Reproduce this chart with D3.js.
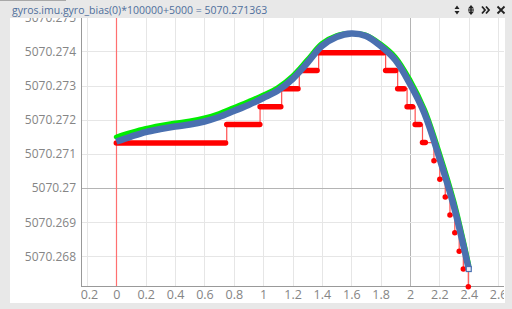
<!DOCTYPE html>
<html>
<head>
<meta charset="utf-8">
<script src="https://cdn.jsdelivr.net/npm/d3@7"></script>
<style>
  body { margin: 0; background: #e8e8e8; }
  svg { display: block; font-family: "Open Sans", sans-serif; }
</style>
</head>
<body>
<svg width="512" height="309"></svg>
<script>
// series (time in s, value)
const times = [0, 0.1, 0.2, 0.3, 0.4, 0.5, 0.6, 0.7, 0.8, 0.9, 1.0, 1.1, 1.2,
  1.3, 1.4, 1.5, 1.6, 1.7, 1.8, 1.9, 2.0, 2.1, 2.2, 2.3, 2.4];
const blueVals = [5070.271362, 5070.271508, 5070.27164, 5070.271728, 5070.271801,
  5070.27186, 5070.271948, 5070.27208, 5070.272255, 5070.272431, 5070.272636,
  5070.272856, 5070.273193, 5070.273661, 5070.274159, 5070.274423, 5070.274525,
  5070.274452, 5070.274159, 5070.273749, 5070.273046, 5070.272168, 5070.270879,
  5070.269443, 5070.267627];
const greenVals = [5070.271494, 5070.271626, 5070.271743, 5070.271831, 5070.271904,
  5070.271963, 5070.27205, 5070.272182, 5070.272358, 5070.272534, 5070.272724,
  5070.272944, 5070.273281, 5070.273749, 5070.274233, 5070.274467, 5070.274525,
  5070.274482, 5070.274218, 5070.273837, 5070.273163, 5070.272285, 5070.271025,
  5070.26959, 5070.267745];

// red quantized series: one entry per level (first and last sample time)
const redStart = [0, 0.752, 0.979, 1.126, 1.246, 1.378, 1.834, 1.916, 1.98, 2.035,
  2.085, 2.163, 2.203, 2.24, 2.272, 2.305, 2.335, 2.363, 2.397];
const redEnd = [0.744, 0.977, 1.12, 1.237, 1.367, 1.823, 1.903, 1.96, 2.017, 2.068,
  2.104, 2.163, 2.203, 2.24, 2.272, 2.305, 2.335, 2.363, 2.397];
const redVals = [5070.27132, 5070.27186, 5070.27238, 5070.27291, 5070.27344, 5070.27396,
  5070.27344, 5070.27291, 5070.27238, 5070.27186, 5070.27133, 5070.2708, 5070.27026,
  5070.26974, 5070.26921, 5070.26869, 5070.26815, 5070.26763, 5070.26711];

const xTicks = [-0.2, 0, 0.2, 0.4, 0.6, 0.8, 1, 1.2, 1.4, 1.6, 1.8, 2, 2.2, 2.4, 2.6];
const yTicks = [5070.268, 5070.269, 5070.27, 5070.271, 5070.272, 5070.273, 5070.274, 5070.275];
const title = 'gyros.imu.gyro_bias(0)*100000+5000 = 5070.271363';
const trackerTime = 0;

const svg = d3.select('svg');
const pLeft = 81, pRight = 504, pTop = 18, pBottom = 286;

const x = d3.scaleLinear().domain([-0.2404, 2.640]).range([pLeft, pRight]);
const y = d3.scaleLinear().domain([5070.26713, 5070.27498]).range([pBottom, pTop]);

// background panels
svg.append('rect').attr('x', 0).attr('y', 0).attr('width', 512).attr('height', 309).attr('fill', '#e8e8e8');
svg.append('rect').attr('x', 0).attr('y', 0).attr('width', 66).attr('height', 1).attr('fill', '#a8a8a8');
svg.append('rect').attr('x', 10).attr('y', pTop).attr('width', pRight - 10 + 1).attr('height', 303 - pTop).attr('fill', '#fff');

svg.append('text')
  .attr('x', 12).attr('y', 14)
  .attr('font-size', 10.5)
  .attr('fill', '#4f6f9c')
  .text(title);

// header icons
const ic = svg.append('g').attr('fill', '#222').attr('stroke', '#222');
ic.append('path').attr('stroke', 'none').attr('d', 'M454.5,9 L457,5.5 L459.5,9 Z M454.5,11 L457,14.5 L459.5,11 Z');
ic.append('path').attr('stroke', 'none').attr('d', 'M468,8.5 L471,5 L474,8.5 Z M468,11.5 L471,15 L474,11.5 Z');
ic.append('line').attr('x1', 471).attr('x2', 471).attr('y1', 7).attr('y2', 13).attr('stroke-width', 1.3);
ic.append('line').attr('x1', 468).attr('x2', 474).attr('y1', 10).attr('y2', 10).attr('stroke-width', 1.3);
ic.append('path').attr('fill', 'none').attr('stroke-width', 1.8)
  .attr('d', 'M482,6.5 L485,10 L482,13.5 M486,6.5 L489,10 L486,13.5');
ic.append('path').attr('fill', 'none').attr('stroke-width', 1.8)
  .attr('d', 'M497.5,6.5 L504.5,13.5 M504.5,6.5 L497.5,13.5');

svg.append('clipPath').attr('id', 'plotClip')
  .append('rect').attr('x', pLeft).attr('y', pTop).attr('width', pRight - pLeft).attr('height', pBottom - pTop);
svg.append('clipPath').attr('id', 'xLabClip')
  .append('rect').attr('x', pLeft).attr('y', pBottom).attr('width', pRight - pLeft).attr('height', 20);
svg.append('clipPath').attr('id', 'yLabClip')
  .append('rect').attr('x', 10).attr('y', pTop).attr('width', pLeft - 10).attr('height', pBottom - pTop + 10);

// grid
const grid = svg.append('g').attr('clip-path', 'url(#plotClip)');
xTicks.forEach(t => {
  grid.append('line')
    .attr('x1', Math.round(x(t)) + 0.5).attr('x2', Math.round(x(t)) + 0.5)
    .attr('y1', pTop).attr('y2', pBottom)
    .attr('stroke', t === 2 ? '#b4b4b4' : '#e6e6e6').attr('stroke-width', 1);
});
yTicks.forEach(t => {
  grid.append('line')
    .attr('x1', pLeft).attr('x2', pRight)
    .attr('y1', Math.round(y(t)) + 0.5).attr('y2', Math.round(y(t)) + 0.5)
    .attr('stroke', t === 5070.27 ? '#b4b4b4' : '#e6e6e6').attr('stroke-width', 1);
});

// axes (wrapped so the clip works in page coordinates)
const xAxis = d3.axisBottom(x).tickValues(xTicks).tickSize(0).tickPadding(4)
  .tickFormat(d => String(d));
const gx = svg.append('g').attr('clip-path', 'url(#xLabClip)')
  .append('g').attr('transform', 'translate(0,' + pBottom + ')').call(xAxis);
gx.select('.domain').remove();
gx.selectAll('text').attr('font-size', 12.5).attr('fill', '#858585')
  .attr('font-family', '"Open Sans", sans-serif');

const yAxis = d3.axisLeft(y).tickValues(yTicks).tickSize(0).tickPadding(5)
  .tickFormat(d => String(parseFloat(d.toFixed(3))));
const gy = svg.append('g').attr('clip-path', 'url(#yLabClip)')
  .append('g').attr('transform', 'translate(' + pLeft + ',0)').call(yAxis);
gy.select('.domain').remove();
gy.selectAll('text').attr('font-size', 12).attr('fill', '#858585')
  .attr('font-family', '"Open Sans", sans-serif');

svg.append('line').attr('x1', pLeft + 0.5).attr('x2', pLeft + 0.5).attr('y1', pTop).attr('y2', pBottom + 0.5)
  .attr('stroke', '#999');
svg.append('line').attr('x1', pLeft).attr('x2', pRight).attr('y1', pBottom + 0.5).attr('y2', pBottom + 0.5)
  .attr('stroke', '#999');

// time tracker
svg.append('line')
  .attr('x1', Math.round(x(trackerTime)) + 0.5).attr('x2', Math.round(x(trackerTime)) + 0.5)
  .attr('y1', pTop).attr('y2', pBottom)
  .attr('stroke', '#ff7070').attr('stroke-width', 1.2);

const plot = svg.append('g');

// red: thin step line + thick sample bars
let stepPts = [];
redVals.forEach((v, i) => {
  if (i > 0) stepPts.push([redStart[i], redVals[i - 1]]);
  stepPts.push([redStart[i], v]);
  stepPts.push([redEnd[i], v]);
});
plot.append('path')
  .datum(stepPts)
  .attr('fill', 'none')
  .attr('stroke', '#ff5050')
  .attr('stroke-width', 1.2)
  .attr('d', d3.line().x(d => x(d[0])).y(d => y(d[1])));

redVals.forEach((v, i) => {
  plot.append('line')
    .attr('x1', x(redStart[i])).attr('x2', x(redEnd[i]) + 0.01)
    .attr('y1', y(v)).attr('y2', y(v))
    .attr('stroke', '#ff0000').attr('stroke-width', 5.5).attr('stroke-linecap', 'round');
});

// green
plot.append('path')
  .datum(times.map((t, i) => [t, greenVals[i]]))
  .attr('fill', 'none')
  .attr('stroke', '#00ee00')
  .attr('stroke-width', 5)
  .attr('stroke-linecap', 'round')
  .attr('d', d3.line().x(d => x(d[0])).y(d => y(d[1])).curve(d3.curveCatmullRom));

// blue
const bluePts = times.map((t, i) => [t, blueVals[i]]);
plot.append('path')
  .datum(bluePts)
  .attr('fill', 'none')
  .attr('stroke', '#4a70b0')
  .attr('stroke-width', 6.5)
  .attr('stroke-linecap', 'butt')
  .attr('d', d3.line().x(d => x(d[0])).y(d => y(d[1])).curve(d3.curveCatmullRom));

const last = bluePts[bluePts.length - 1];
plot.append('rect')
  .attr('x', x(last[0]) - 2.5).attr('y', y(last[1]) - 2.5)
  .attr('width', 5).attr('height', 5)
  .attr('fill', '#e8eef8').attr('stroke', '#4a70b0').attr('stroke-width', 1.2);
</script>
</body>
</html>
